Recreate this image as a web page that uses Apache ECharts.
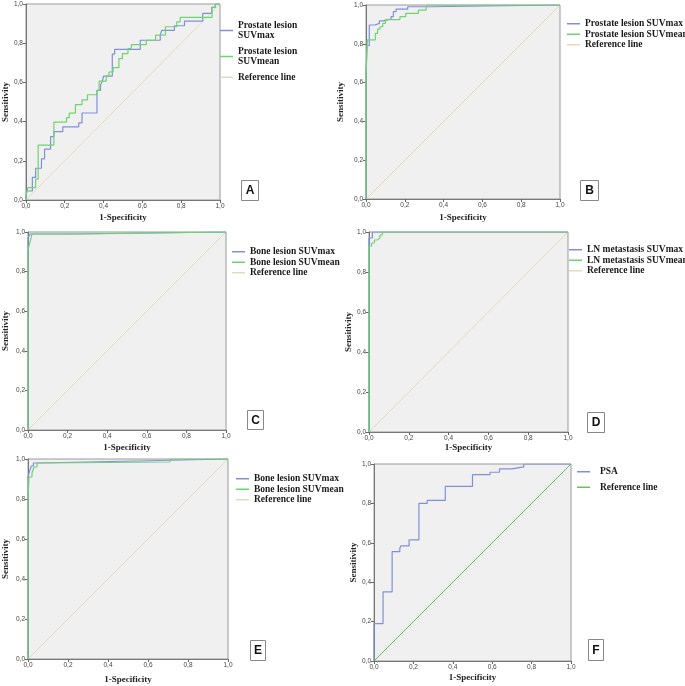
<!DOCTYPE html>
<html><head><meta charset="utf-8">
<script src="https://cdn.jsdelivr.net/npm/echarts@6/dist/echarts.min.js"></script>
<style>html,body{margin:0;padding:0;background:#fff}#c{width:685px;height:686px}</style>
</head><body><div id="c"></div><script>
// ---- data: ROC vertices [1-Specificity, Sensitivity] (top of each rise) ----
const panelLetters = ['A', 'B', 'C', 'D', 'E', 'F'];
const refLine = [[0, 0], [1, 1]];

const A_SUVmax = [[0,0],[0.003,0.046],[0.033,0.115],[0.05,0.162],[0.08,0.21],[0.096,0.26],[0.127,0.323],[0.144,0.349],[0.19,0.373],[0.272,0.393],[0.289,0.444],[0.366,0.559],[0.384,0.585],[0.394,0.607],[0.40,0.632],[0.445,0.744],[0.457,0.768],[0.589,0.815],[0.692,0.841],[0.70,0.865],[0.765,0.889],[0.817,0.913],[0.911,0.952],[0.957,0.983],[0.976,1.0],[1,1]];
const A_SUVmean = [[0,0],[0,0.017],[0.01,0.063],[0.05,0.106],[0.063,0.28],[0.144,0.397],[0.209,0.42],[0.223,0.443],[0.255,0.487],[0.289,0.511],[0.317,0.537],[0.366,0.559],[0.377,0.607],[0.414,0.632],[0.428,0.653],[0.449,0.675],[0.479,0.721],[0.497,0.747],[0.526,0.773],[0.543,0.793],[0.62,0.815],[0.668,0.841],[0.719,0.884],[0.777,0.909],[0.795,0.932],[0.959,0.983],[0.976,1.0],[1,1]];

const B_SUVmax = [[0,0],[0,0.65],[0.005,0.79],[0.017,0.897],[0.046,0.905],[0.069,0.918],[0.089,0.928],[0.129,0.94],[0.141,0.966],[0.155,0.979],[0.215,0.991],[0.33,1.0],[1,1]];
const B_SUVmean = [[0,0],[0,0.63],[0.007,0.82],[0.048,0.854],[0.06,0.876],[0.072,0.888],[0.086,0.905],[0.1,0.925],[0.175,0.94],[0.205,0.957],[0.27,0.974],[0.31,0.985],[0.315,1.0],[1,1]];

const C_SUVmax = [[0,0],[0,0.97],[0.01,0.99],[0.195,1.0],[1,1]];
const C_SUVmean = [[0,0],[0,0.91],[0.005,0.93],[0.012,0.955],[0.02,0.99],[0.283,1.0],[1,1]];

const D_SUVmax = [[0,0],[0,0.97],[0.017,1.0],[1,1]];
const D_SUVmean = [[0,0],[0,0.93],[0.013,0.945],[0.027,0.96],[0.04,0.97],[0.055,0.985],[0.067,1.0],[1,1]];

const E_SUVmax = [[0,0],[0,0.91],[0.008,0.94],[0.017,0.965],[0.027,0.98],[0.045,0.99],[0.54,1.0],[1,1]];
const E_SUVmean = [[0,0],[0,0.80],[0.005,0.91],[0.02,0.93],[0.03,0.96],[0.045,0.98],[0.09,0.985],[0.71,1.0],[1,1]];

const F_PSA = [[0,0],[0,0.19],[0.046,0.351],[0.092,0.555],[0.131,0.572],[0.136,0.584],[0.178,0.615],[0.228,0.80],[0.27,0.815],[0.362,0.886],[0.5,0.946],[0.589,0.958],[0.637,0.975],[0.70,0.985],[0.76,1.0],[1,1]];

const names = {
  A: ['Prostate lesion\nSUVmax', 'Prostate lesion\nSUVmean'],
  B: ['Prostate lesion SUVmax', 'Prostate lesion SUVmean'],
  C: ['Bone lesion SUVmax', 'Bone lesion SUVmean'],
  D: ['LN metastasis SUVmax', 'LN metastasis SUVmean'],
  E: ['Bone lesion SUVmax', 'Bone lesion SUVmean'],
  F: ['PSA']
};
const refName = 'Reference line';
const curves = {A:[A_SUVmax,A_SUVmean], B:[B_SUVmax,B_SUVmean], C:[C_SUVmax,C_SUVmean], D:[D_SUVmax,D_SUVmean], E:[E_SUVmax,E_SUVmean], F:[F_PSA]};

// ---- layout / style ----
const layout = [
 {grid:{left:24,top:4,width:196,height:196}, yGap:14, xGap:13, lg:{left:220,top:20,itemGap:5}, box:[241,180,17,20]},
 {grid:{left:366,top:5,width:194,height:194}, yGap:21, xGap:14, lg:{left:567,top:18.5,itemGap:0}, box:[580,180,18,20]},
 {grid:{left:28,top:232,width:198,height:198}, yGap:18, xGap:13, lg:{left:232,top:246.5,itemGap:0}, box:[247,410,16,19]},
 {grid:{left:369,top:232,width:199,height:200}, yGap:14, xGap:11, lg:{left:569,top:244.5,itemGap:0}, box:[587,412,17,20]},
 {grid:{left:28,top:459,width:200,height:200}, yGap:18, xGap:16, lg:{left:236,top:473.5,itemGap:0}, box:[250,640,15,20]},
 {grid:{left:374,top:464,width:197,height:197}, yGap:16, xGap:12, lg:{left:577,top:466.5,itemGap:5}, box:[588,639,15,21]}
];
const BLUE = '#8090d8', GREEN = '#6fd46f', BEIGE = '#e3dcbc', REFGREEN = '#5cc85c';
const serif = 'Liberation Serif';
const titleStyle = {fontFamily: serif, fontWeight: 'bold', fontSize: 9, color: '#222'};
const fmt = v => Number(v).toFixed(1).replace('.', ',');

const grids = [], xAxes = [], yAxes = [], series = [], legends = [], graphics = [];
panelLetters.forEach((k, i) => {
  const L = layout[i];
  grids.push(Object.assign({show: true, backgroundColor: '#f0f0f0', borderColor: '#9a9a9a', borderWidth: 1}, L.grid));
  const axCommon = {
    type: 'value', min: 0, max: 1, interval: 0.2, gridIndex: i,
    splitLine: {show: false},
    axisLine: {show: true, onZero: false, lineStyle: {color: '#777', width: 1}},
    axisTick: {show: true, length: 3, lineStyle: {color: '#666'}},
    axisLabel: {formatter: fmt, fontFamily: 'Liberation Sans', fontSize: 6.5, color: '#444', margin: 3},
    nameLocation: 'middle', nameTextStyle: titleStyle
  };
  xAxes.push(Object.assign({}, axCommon, {name: '1-Specificity', nameGap: L.xGap}));
  yAxes.push(Object.assign({}, axCommon, {name: 'Sensitivity', nameGap: L.yGap}));
  const refColor = k === 'F' ? REFGREEN : BEIGE;
  series.push({type: 'line', name: refName, xAxisIndex: i, yAxisIndex: i, data: refLine, symbol: 'none',
    lineStyle: {color: refColor, width: 1}, itemStyle: {color: refColor}, silent: true});
  const cols = k === 'F' ? [BLUE] : [BLUE, GREEN];
  curves[k].forEach((d, j) => {
    series.push({type: 'line', name: names[k][j], xAxisIndex: i, yAxisIndex: i, data: d, step: 'end', symbol: 'none',
      lineStyle: {color: cols[j], width: 1.2}, itemStyle: {color: cols[j]}});
  });
  const legData = names[k].map((n, j) => ({name: n, itemStyle: {color: cols[j]}}));
  legData.push({name: refName, itemStyle: {color: refColor}});
  legends.push({
    orient: 'vertical', left: L.lg.left, top: L.lg.top, itemGap: L.lg.itemGap, padding: 0,
    icon: 'rect', itemWidth: 13, itemHeight: 1.5, selectedMode: false,
    textStyle: {fontFamily: serif, fontWeight: 'bold', fontSize: 9.5, color: '#1a1a1a', lineHeight: 10.5,
      padding: k === 'F' ? [0, 0, 0, 5] : 0},
    data: legData
  });
  const b = L.box;
  graphics.push({type: 'rect', shape: {x: b[0] + 0.5, y: b[1] + 0.5, width: b[2], height: b[3]},
    style: {fill: '#fff', stroke: '#888', lineWidth: 1}});
  graphics.push({type: 'text', x: b[0] + b[2] / 2 + 0.5, y: b[1] + b[3] / 2 + 1,
    style: {text: k, fontFamily: 'Liberation Sans', fontWeight: 'bold', fontSize: 12, fill: '#111', align: 'center', verticalAlign: 'middle'}});
});

const chart = echarts.init(document.getElementById('c'), null, {renderer: 'canvas'});
chart.setOption({animation: false, backgroundColor: '#fff', grid: grids, xAxis: xAxes, yAxis: yAxes,
  series: series, legend: legends, graphic: graphics});
</script></body></html>
